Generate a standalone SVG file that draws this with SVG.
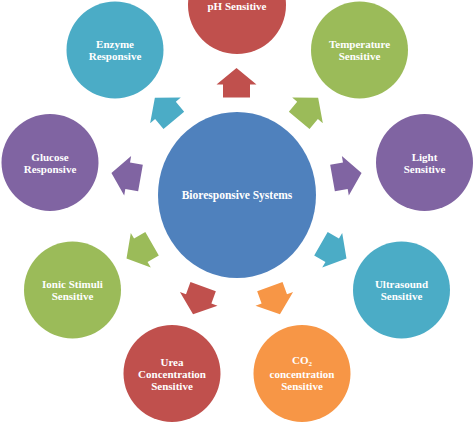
<svg xmlns="http://www.w3.org/2000/svg" xmlns:xlink="http://www.w3.org/1999/xlink" width="474" height="423" viewBox="0 0 474 423">
<style>
.t{font-family:"Liberation Serif","Times New Roman",serif;font-weight:bold;font-size:11px;fill:#fff;text-anchor:middle}
.red{fill:#C0504D}.green{fill:#9BBB59}.purple{fill:#8064A2}.teal{fill:#4BACC6}.orange{fill:#F79646}.blue{fill:#4F81BD}
</style>
<defs>
<path id="arr" d="M97.5,-13.5 H110.5 V-20 L127,0 L110.5,20 V13.5 H97.5 Z"/>
</defs>
<rect width="474" height="423" fill="#fff"/>
<g id="connectors">
<use xlink:href="#arr" class="red" transform="translate(236.5,195) rotate(-90)"/>
<use xlink:href="#arr" class="green" transform="translate(236.5,195) rotate(-50)"/>
<use xlink:href="#arr" class="purple" transform="translate(236.5,195) rotate(-10)"/>
<use xlink:href="#arr" class="teal" transform="translate(236.5,195) rotate(30)"/>
<use xlink:href="#arr" class="orange" transform="translate(236.5,195) rotate(70)"/>
<use xlink:href="#arr" class="red" transform="translate(236.5,195) rotate(110)"/>
<use xlink:href="#arr" class="green" transform="translate(236.5,195) rotate(150)"/>
<use xlink:href="#arr" class="purple" transform="translate(236.5,195) rotate(190)"/>
<use xlink:href="#arr" class="teal" transform="translate(236.5,195) rotate(230)"/>
</g>
<g id="center">
<ellipse class="blue" cx="237" cy="195" rx="79" ry="83"/>
<text class="t" x="237" y="199" style="font-size:11.5px">Bioresponsive Systems</text>
</g>
<g id="ph">
<circle class="red" cx="237" cy="5" r="49"/>
<text class="t" x="237" y="10">pH Sensitive</text>
</g>
<g id="temperature">
<circle class="green" cx="359.5" cy="50" r="48.5"/>
<text class="t" x="359.5" y="48">Temperature</text>
<text class="t" x="359.5" y="60">Sensitive</text>
</g>
<g id="light">
<circle class="purple" cx="424.5" cy="162.5" r="48.5"/>
<text class="t" x="424.5" y="160.5">Light</text>
<text class="t" x="424.5" y="172.5">Sensitive</text>
</g>
<g id="ultrasound">
<circle class="teal" cx="401.5" cy="290" r="48.5"/>
<text class="t" x="401.5" y="288">Ultrasound</text>
<text class="t" x="401.5" y="300">Sensitive</text>
</g>
<g id="co2">
<circle class="orange" cx="302" cy="373.5" r="48.5"/>
<text class="t" x="302" y="364">CO<tspan dy="1.5" style="font-size:7px">2</tspan></text>
<text class="t" x="302" y="377.5">concentration</text>
<text class="t" x="302" y="389.5">Sensitive</text>
</g>
<g id="urea">
<circle class="red" cx="172" cy="373.5" r="48.5"/>
<text class="t" x="172" y="365.5">Urea</text>
<text class="t" x="172" y="377.5">Concentration</text>
<text class="t" x="172" y="389.5">Sensitive</text>
</g>
<g id="ionic">
<circle class="green" cx="72.5" cy="290" r="48.5"/>
<text class="t" x="72.5" y="288">Ionic Stimuli</text>
<text class="t" x="72.5" y="300">Sensitive</text>
</g>
<g id="glucose">
<circle class="purple" cx="50" cy="162.5" r="48.5"/>
<text class="t" x="50" y="160.5">Glucose</text>
<text class="t" x="50" y="172.5">Responsive</text>
</g>
<g id="enzyme">
<circle class="teal" cx="115" cy="50" r="48.5"/>
<text class="t" x="115" y="48">Enzyme</text>
<text class="t" x="115" y="60">Responsive</text>
</g>
</svg>
